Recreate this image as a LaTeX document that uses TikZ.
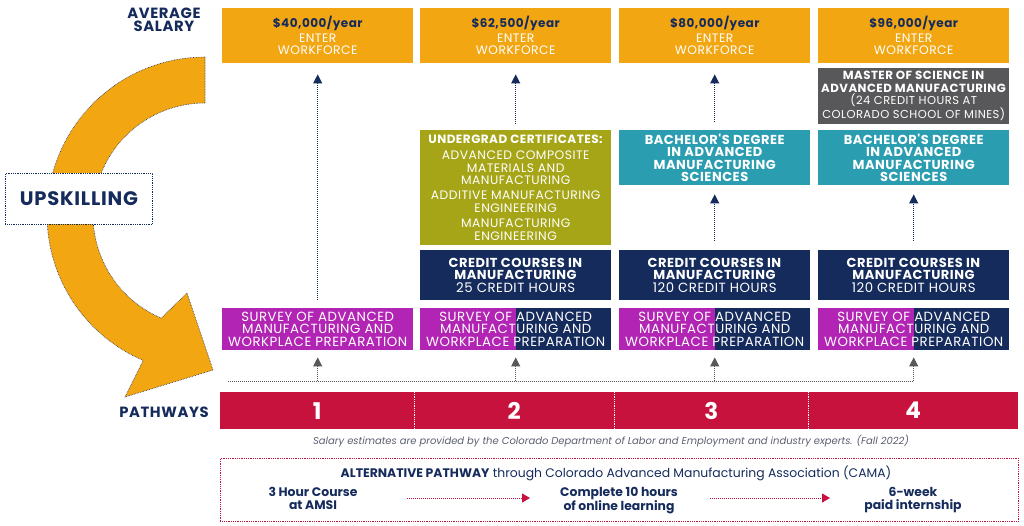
\documentclass[tikz,border=0pt]{standalone}
\usepackage{fontspec}
\setmainfont{Poppins}
\newfontfamily\bx{Poppins}[LetterSpace=4]
\usetikzlibrary{arrows.meta,calc}
\definecolor{cOrange}{HTML}{F2A612}
\definecolor{cGreen}{HTML}{A6A517}
\definecolor{cTeal}{HTML}{2B9DB1}
\definecolor{cNavy}{HTML}{152B5C}
\definecolor{cPurple}{HTML}{B224B3}
\definecolor{cGrey}{HTML}{58585A}
\definecolor{cRed}{HTML}{C6123C}
\definecolor{cNote}{HTML}{5A5E6E}
\newcommand{\fs}[1]{\fontsize{#1}{12.4}\selectfont}
\newcommand{\sal}[1]{\textcolor{cNavy}{\bfseries\fontsize{12}{12}\selectfont\$#1/year}}
\tikzset{
  box/.style={inner sep=0pt, anchor=north west, minimum width=191pt, text=white, align=center, font=\bx\fs{13.3}},
  navyarrow/.style={cNavy, densely dotted, line width=1pt, -{Triangle[width=9pt,length=9pt]}},
  greyarrow/.style={cGrey, densely dotted, line width=1pt, -{Triangle[width=9pt,length=9pt]}},
  redarrow/.style={cRed, densely dotted, line width=1pt, -{Triangle[width=9pt,length=8pt]}},
  survey/.style={box, minimum height=42pt, fill=cNavy},
  split/.style={path picture={\fill[cPurple] (path picture bounding box.south west) rectangle (path picture bounding box.north);}},
  label/.style={text=cNavy, align=center, font=\bx\bfseries\fontsize{14.8}{13.5}\selectfont},
  alt/.style={text=cNavy, align=center, font=\fontsize{12.4}{13.2}\selectfont},
  altrow/.style={alt, anchor=north, inner sep=0pt},
}
\begin{document}
\begin{tikzpicture}[x=1pt,y=-1pt]
\useasboundingbox (0,0) rectangle (1024,526);
% curved upskilling arrow
\filldraw[fill=cOrange, draw=cNavy, densely dotted, line width=0.6pt]
  plot[domain=270:113, samples=60] ({205+158*cos(\x)},{215+158*sin(\x)})
  -- (125,397) -- (213,370) -- (187,293)
  -- plot[domain=113:270, samples=60] ({205+112*cos(\x)},{215+112*sin(\x)}) -- cycle;
\node (up) [draw=cNavy, densely dotted, line width=0.8pt, fill=white, minimum width=147pt, minimum height=51pt, inner sep=0pt, anchor=north west, text=cNavy, font=\bx\bfseries\fontsize{19.5}{19.5}\selectfont] at (5,173) {UPSKILLING};
% labels
\node (avg) [label] at (164,20) {AVERAGE\\SALARY};
\node (pw) [label] at (164,412) {PATHWAYS};
% salary boxes
\node (o1) [box, fill=cOrange, minimum height=55pt, font=\bx\fs{12.3}] at (222,8) {\sal{40,000}\\[2pt]ENTER\\WORKFORCE};
\node (o2) [box, fill=cOrange, minimum height=55pt, font=\bx\fs{12.3}] at (420,8) {\sal{62,500}\\[2pt]ENTER\\WORKFORCE};
\node (o3) [box, fill=cOrange, minimum height=55pt, font=\bx\fs{12.3}] at (619,8) {\sal{80,000}\\[2pt]ENTER\\WORKFORCE};
\node (o4) [box, fill=cOrange, minimum height=55pt, font=\bx\fs{12.3}] at (818,8) {\sal{96,000}\\[2pt]ENTER\\WORKFORCE};
% column 2
\node (g2) [box, fill=cGreen, minimum height=115pt, font=\bx\fs{12.3}] at (420,130)
  {\textbf{\fs{12}UNDERGRAD CERTIFICATES:}\\[3.5pt]ADVANCED COMPOSITE\\MATERIALS AND\\MANUFACTURING\\[3pt]ADDITIVE MANUFACTURING\\ENGINEERING\\[3pt]MANUFACTURING\\ENGINEERING};
\node (c2) [box, fill=cNavy, minimum height=50pt] at (420,250)
  {\textbf{\fs{13}CREDIT COURSES IN}\\\textbf{\fs{13}MANUFACTURING}\\25 CREDIT HOURS};
% column 3
\node (t3) [box, fill=cTeal, minimum height=55pt, font=\bx\bfseries\fs{13}] at (619,130)
  {BACHELOR'S DEGREE\\IN ADVANCED\\MANUFACTURING\\SCIENCES};
\node (c3) [box, fill=cNavy, minimum height=50pt] at (619,250)
  {\textbf{\fs{13}CREDIT COURSES IN}\\\textbf{\fs{13}MANUFACTURING}\\120 CREDIT HOURS};
% column 4
\node (m4) [box, fill=cGrey, minimum height=56pt, font=\bx\fs{11.5}] at (818,68)
  {\textbf{\fs{11.8}MASTER OF SCIENCE IN}\\\textbf{\fs{11.8}ADVANCED MANUFACTURING}\\(24 CREDIT HOURS AT\\COLORADO SCHOOL OF MINES)};
\node (t4) [box, fill=cTeal, minimum height=55pt, font=\bx\bfseries\fs{13}] at (818,130)
  {BACHELOR'S DEGREE\\IN ADVANCED\\MANUFACTURING\\SCIENCES};
\node (c4) [box, fill=cNavy, minimum height=50pt] at (818,250)
  {\textbf{\fs{13}CREDIT COURSES IN}\\\textbf{\fs{13}MANUFACTURING}\\120 CREDIT HOURS};
% survey boxes
\node (s1) [survey, fill=cPurple] at (222,308) {SURVEY OF ADVANCED\\MANUFACTURING AND\\WORKPLACE PREPARATION};
\node (s2) [survey, split] at (420,308) {SURVEY OF ADVANCED\\MANUFACTURING AND\\WORKPLACE PREPARATION};
\node (s3) [survey, split] at (619,308) {SURVEY OF ADVANCED\\MANUFACTURING AND\\WORKPLACE PREPARATION};
\node (s4) [survey, split] at (818,308) {SURVEY OF ADVANCED\\MANUFACTURING AND\\WORKPLACE PREPARATION};
% navy arrows
\draw[navyarrow, shorten <=8pt, shorten >=11pt] (s1.north) -- (o1.south);
\draw[navyarrow, shorten <=6pt, shorten >=11pt] (g2.north) -- (o2.south);
\draw[navyarrow, shorten <=8pt, shorten >=11pt] (t3.north) -- (o3.south);
\draw[navyarrow, shorten <=9pt, shorten >=9pt] (c3.north) -- (t3.south);
\draw[navyarrow, shorten <=9pt, shorten >=9pt] (c4.north) -- (t4.south);
% pathways bar
\node (p1) [fill=cRed, inner sep=0pt, anchor=north west, minimum width=194pt, minimum height=37pt, text=white, font=\bfseries\fontsize{23}{23}\selectfont] at (220,392) {1};
\node (p2) [fill=cRed, inner sep=0pt, anchor=north west, minimum width=200pt, minimum height=37pt, text=white, font=\bfseries\fontsize{23}{23}\selectfont] at (414,392) {2};
\node (p3) [fill=cRed, inner sep=0pt, anchor=north west, minimum width=194pt, minimum height=37pt, text=white, font=\bfseries\fontsize{23}{23}\selectfont] at (614,392) {3};
\node (p4) [fill=cRed, inner sep=0pt, anchor=north west, minimum width=210pt, minimum height=37pt, text=white, font=\bfseries\fontsize{23}{23}\selectfont] at (808,392) {4};
\foreach \i in {1,2,3}{\draw[white, densely dotted, line width=0.8pt] (p\i.north east) -- (p\i.south east);}
% grey arrows
\coordinate (hl) at (228,381);
\draw[cGrey, densely dotted, line width=1pt] (hl) -- (hl -| s1.south);
\draw[greyarrow, shorten >=7pt] (hl -| s1.south) -- (s1.south);
\draw[greyarrow, shorten >=7pt] (hl -| s2.south) -- (s2.south);
\draw[greyarrow, shorten >=7pt] (hl -| s3.south) -- (s3.south);
\draw[greyarrow, shorten >=7pt] (hl -| s1.south) -- (hl -| s4.south) -- (s4.south);
% note
\node (note) [text=cNote, font=\itshape\fontsize{10}{10}\selectfont] at (611,441) {Salary estimates are provided by the Colorado Department of Labor and Employment and industry experts. (Fall 2022)};
% alternative pathway
\node (altbox) [draw=cRed, densely dotted, line width=0.8pt, minimum width=798pt, minimum height=63pt, inner sep=0pt, anchor=north west] at (220,458) {};
\node (alttitle) [alt] at (616,473) {\textbf{ALTERNATIVE PATHWAY} through Colorado Advanced Manufacturing Association (CAMA)};
\node (a1) [altrow] at (313,487) {\textbf{3 Hour Course}\\\textbf{at AMSI}};
\node (a2) [altrow] at (619,487) {\textbf{Complete 10 hours}\\\textbf{of online learning}};
\node (a3) [altrow] at (913,487) {\textbf{6-week}\\\textbf{paid internship}};
\draw[redarrow] ($(a1.north)+(94,11)$) -- ($(a2.north)+(-89,11)$);
\draw[redarrow] ($(a2.north)+(91,11)$) -- ($(a3.north)+(-83,11)$);
\end{tikzpicture}
\end{document}
